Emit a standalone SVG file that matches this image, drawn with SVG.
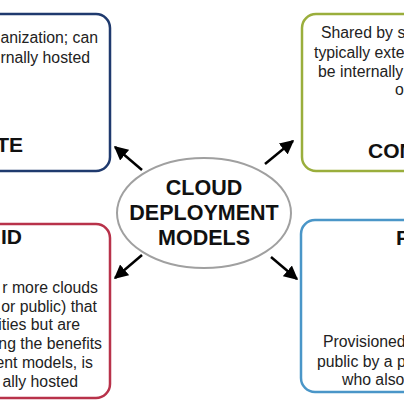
<svg xmlns="http://www.w3.org/2000/svg" width="404" height="404" viewBox="0 0 404 404">
<defs>
<style>
.box{fill:#fff;stroke-width:2.5}
.t{font-family:"Liberation Sans",Arial,sans-serif;font-size:15.8px;fill:#222}
.h{font-family:"Liberation Sans",Arial,sans-serif;font-size:21px;font-weight:bold;fill:#111}
.c{font-family:"Liberation Sans",Arial,sans-serif;font-size:21.5px;font-weight:bold;fill:#111;text-anchor:middle}
.a{stroke:#000;stroke-width:2.5;fill:none;marker-end:url(#ah)}
</style>
<marker id="ah" viewBox="0 0 10 10" refX="9" refY="5" markerWidth="5.6" markerHeight="5.6" orient="auto" markerUnits="strokeWidth">
<path d="M0,0 L10,5 L0,10 z" fill="#000"/>
</marker>
</defs>
<rect width="404" height="404" fill="#fff"/>
<g id="private">
<rect class="box" x="-150" y="14" width="260" height="157" rx="14" stroke="#1f3a6e"/>
<text class="t" text-anchor="end" x="98" y="43">anization; can</text>
<text class="t" text-anchor="end" x="90" y="63">rnally hosted</text>
<text class="h" text-anchor="end" x="23" y="152">TE</text>
</g>
<g id="community">
<rect class="box" x="302" y="14" width="260" height="157" rx="14" stroke="#9aae3c"/>
<text class="t" x="321" y="38">Shared by s</text>
<text class="t" x="314" y="58">typically exte</text>
<text class="t" x="318" y="77">be internally</text>
<text class="t" x="395" y="95">o</text>
<text class="h" x="368" y="158">COM</text>
</g>
<g id="hybrid">
<rect class="box" x="-150" y="224" width="260" height="174" rx="14" stroke="#b8324a"/>
<text class="h" text-anchor="end" x="22" y="244">ID</text>
<text class="t" text-anchor="end" x="98" y="293">r more clouds</text>
<text class="t" text-anchor="end" x="97" y="312">or public) that</text>
<text class="t" text-anchor="end" x="80" y="330">ities but are</text>
<text class="t" text-anchor="end" x="102" y="349">ng the benefits</text>
<text class="t" text-anchor="end" x="93" y="368">ent models, is</text>
<text class="t" text-anchor="end" x="78" y="387">ally hosted</text>
</g>
<g id="public">
<rect class="box" x="301" y="220" width="260" height="172" rx="14" stroke="#4a96c8"/>
<text class="h" x="396" y="245">P</text>
<text class="t" x="323" y="347">Provisioned</text>
<text class="t" x="317" y="367">public by a p</text>
<text class="t" x="342" y="385">who also</text>
</g>
<g id="center">
<ellipse cx="204" cy="213" rx="87" ry="55" fill="#fff" stroke="#a0a0a0" stroke-width="2"/>
<text class="c" x="204" y="195">CLOUD</text>
<text class="c" x="204" y="220">DEPLOYMENT</text>
<text class="c" x="204" y="245">MODELS</text>
</g>
<g id="connectors">
<line class="a" x1="142" y1="170" x2="115" y2="147"/>
<line class="a" x1="265" y1="164" x2="293" y2="141"/>
<line class="a" x1="142" y1="255" x2="115" y2="278"/>
<line class="a" x1="271" y1="257" x2="297" y2="279"/>
</g>
</svg>
